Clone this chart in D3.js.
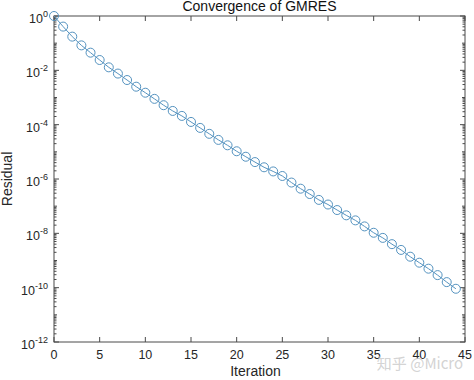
<!DOCTYPE html>
<html>
<head>
<meta charset="utf-8">
<script src="https://cdn.jsdelivr.net/npm/d3@7"></script>
<style>
    body { margin: 0; background: #fff; }
    svg { display: block; font-family: "Liberation Sans", Arial, sans-serif; }
</style>
</head>
<body>
<svg id="chart" width="474" height="380"></svg>
<script>
var d3 = d3 || {};

// iteration numbers and residual
var iterations = [0, 1, 2, 3, 4, 5, 6, 7, 8, 9, 10, 11, 12, 13, 14, 15, 16, 17, 18, 19, 20, 21,
    22, 23, 24, 25, 26, 27, 28, 29, 30, 31, 32, 33, 34, 35, 36, 37, 38, 39, 40, 41, 42, 43, 44];
var residuals = [1, 4.07e-1, 1.74e-1, 8.3e-2, 4.47e-2, 2.4e-2, 1.29e-2, 7.6e-3, 4.4e-3, 2.5e-3,
    1.5e-3, 8.9e-4, 5.2e-4, 3.2e-4, 2.1e-4, 1.26e-4, 7.6e-5, 4.6e-5, 2.75e-5, 1.74e-5,
    1.05e-5, 6.6e-6, 4.2e-6, 2.7e-6, 1.9e-6, 1.29e-6, 7.4e-7, 4.4e-7, 2.8e-7, 1.7e-7,
    1.15e-7, 7.2e-8, 4.6e-8, 3.0e-8, 1.8e-8, 1.05e-8, 6.8e-9, 4.0e-9, 2.45e-9, 1.38e-9,
    8.3e-10, 5.0e-10, 2.9e-10, 1.6e-10, 9.1e-11];

var xTicks = [0, 5, 10, 15, 20, 25, 30, 35, 40, 45];
var yTickExponents = [0, -2, -4, -6, -8, -10, -12];

var titleText = "Convergence of GMRES";
var xLabelText = "Iteration";
var yLabelText = "Residual";
var watermarkText = "知乎 @Micro";

(function(){
    "use strict";

    var svg = d3.select("#chart");
    var left = 54, right = 465, top = 16, bottom = 342;
    var axisColor = "#4a4a4a";
    var textColor = "#262626";
    var lineColor = "#5593c0";

    var x = d3.scaleLinear().domain([0, 45]).range([left, right]);
    var y = d3.scaleLog().domain([1e-12, 1]).range([bottom, top]);

    var data = iterations.map(function(it, i){
        return {"it": it, "r": residuals[i]};
    });

    /*
        box round the plot area
    */
    svg.append("rect")
        .attr("x", left).attr("y", top)
        .attr("width", right - left).attr("height", bottom - top)
        .attr("fill", "none")
        .attr("stroke", axisColor)
        .attr("stroke-width", 1);

    // x ticks, inward, on bottom and top
    var tickG = svg.append("g").attr("stroke", axisColor).attr("stroke-width", 1);
    xTicks.forEach(function(t){
        tickG.append("line")
            .attr("x1", x(t)).attr("x2", x(t))
            .attr("y1", bottom).attr("y2", bottom - 5);
        tickG.append("line")
            .attr("x1", x(t)).attr("x2", x(t))
            .attr("y1", top).attr("y2", top + 5);
    });

    // y ticks: majors at labelled decades, minors in between (left and right)
    for(var e = -12; e <= 0; e++){
        var major = yTickExponents.indexOf(e) != -1;
        var len = major ? 5 : 3;
        var v = Math.pow(10, e);
        tickG.append("line")
            .attr("x1", left).attr("x2", left + len)
            .attr("y1", y(v)).attr("y2", y(v));
        tickG.append("line")
            .attr("x1", right).attr("x2", right - len)
            .attr("y1", y(v)).attr("y2", y(v));
        if(e < 0){
            for(var m = 2; m <= 9; m++){
                var mv = m * v;
                tickG.append("line")
                    .attr("x1", left).attr("x2", left + 2.5)
                    .attr("y1", y(mv)).attr("y2", y(mv));
                tickG.append("line")
                    .attr("x1", right).attr("x2", right - 2.5)
                    .attr("y1", y(mv)).attr("y2", y(mv));
            }
        }
    }

    // x tick labels
    svg.append("g").selectAll("text")
        .data(xTicks)
        .enter().append("text")
        .attr("x", function(d){ return x(d); })
        .attr("y", bottom + 17)
        .attr("text-anchor", "middle")
        .attr("font-size", 12.5)
        .attr("fill", textColor)
        .text(function(d){ return d; });

    // y tick labels as 10 with superscript exponent
    var yLab = svg.append("g").selectAll("text")
        .data(yTickExponents)
        .enter().append("text")
        .attr("x", left - 6)
        .attr("y", function(d){ return y(Math.pow(10, d)) + 7; })
        .attr("text-anchor", "end")
        .attr("font-size", 12.5)
        .attr("fill", textColor);
    yLab.append("tspan").text("10");
    yLab.append("tspan")
        .attr("dy", -6)
        .attr("font-size", 9)
        .text(function(d){ return d; });

    // residual line and circle markers
    var line = d3.line()
        .x(function(d){ return x(d.it); })
        .y(function(d){ return y(d.r); });

    svg.append("path")
        .datum(data)
        .attr("d", line)
        .attr("fill", "none")
        .attr("stroke", lineColor)
        .attr("stroke-width", 1);

    svg.append("g").selectAll("circle")
        .data(data)
        .enter().append("circle")
        .attr("cx", function(d){ return x(d.it); })
        .attr("cy", function(d){ return y(d.r); })
        .attr("r", 4.5)
        .attr("fill", "none")
        .attr("stroke", lineColor)
        .attr("stroke-width", 1);

    // title and axis labels
    svg.append("text")
        .attr("x", (left + right) / 2)
        .attr("y", 11)
        .attr("text-anchor", "middle")
        .attr("font-size", 14)
        .attr("fill", "#111")
        .text(titleText);

    svg.append("text")
        .attr("x", (left + right) / 2 - 4)
        .attr("y", 376)
        .attr("text-anchor", "middle")
        .attr("font-size", 14)
        .attr("fill", textColor)
        .text(xLabelText);

    svg.append("text")
        .attr("transform", "translate(12," + ((top + bottom) / 2) + ") rotate(-90)")
        .attr("text-anchor", "middle")
        .attr("font-size", 14)
        .attr("fill", textColor)
        .text(yLabelText);

    // faint watermark at the bottom right
    svg.append("text")
        .attr("x", 420)
        .attr("y", 369)
        .attr("text-anchor", "middle")
        .attr("font-size", 15)
        .attr("font-family", "'Noto Sans CJK SC', sans-serif")
        .attr("fill", "#c8c8c8")
        .attr("fill-opacity", 0.8)
        .text(watermarkText);
}());
</script>
</body>
</html>
